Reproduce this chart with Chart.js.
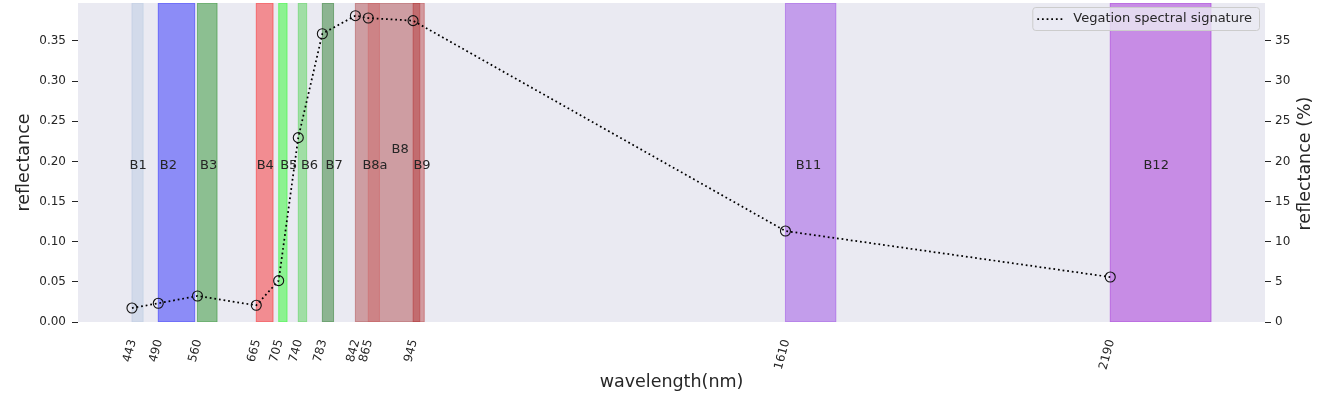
<!DOCTYPE html>
<html><head><meta charset="utf-8">
<script src="https://cdn.jsdelivr.net/npm/chart.js@4.4.1/dist/chart.umd.min.js"></script>
<style>html,body{margin:0;padding:0;background:#fff;} #wrap{width:1323px;height:400px;position:relative;}</style>
</head><body><div id="wrap"><canvas id="c"></canvas></div>
<script>
// ---- data ----
const wavelengths = [443, 490, 560, 665, 705, 740, 783, 842, 865, 945, 1610, 2190];
const reflectance = [0.0174, 0.0233, 0.0324, 0.0208, 0.0515, 0.2296, 0.359, 0.3815, 0.3786, 0.3753, 0.1133, 0.056];
const seriesLabel = 'Vegation spectral signature';
const bandNames   = ['B1', 'B2', 'B3', 'B4', 'B5', 'B6', 'B7', 'B8', 'B8a', 'B9', 'B11', 'B12'];
const bandStarts  = [443, 490, 560, 665, 705, 740, 783, 842, 865, 945, 1610, 2190];
const bandWidths  = [20, 65, 35, 30, 15, 15, 20, 115, 20, 20, 90, 180];
const bandLabelX  = [454, 508, 580, 681, 723, 760, 804, 922, 877, 961, 1651, 2272];
const bandLabelY  = [0.19, 0.19, 0.19, 0.19, 0.19, 0.19, 0.19, 0.21, 0.19, 0.19, 0.19, 0.19];
const xTicks  = [443, 490, 560, 665, 705, 740, 783, 842, 865, 945, 1610, 2190];
const yTicks  = [0, 0.05, 0.10, 0.15, 0.20, 0.25, 0.30, 0.35];
const y2Ticks = [0, 5, 10, 15, 20, 25, 30, 35];

// ---- styles ----
const bandColors = ['lightsteelblue', 'blue', 'green', 'red', 'lime', 'limegreen', 'darkgreen', 'brown', 'indianred', 'firebrick', 'blueviolet', 'darkviolet'];
const FONT = '"DejaVu Sans", sans-serif';
const TXT = '#262626';

const decor = {
  id: 'decor',
  beforeDraw(chart) {
    const {ctx, chartArea: a} = chart;
    ctx.save();
    ctx.fillStyle = '#EAEAF2';
    ctx.fillRect(a.left, a.top, a.width, a.height);
    ctx.restore();
  },
  beforeDatasetsDraw(chart) {
    const {ctx, chartArea: a, scales: {x, y}} = chart;
    ctx.save();
    ctx.beginPath(); ctx.rect(a.left, a.top, a.width, a.height); ctx.clip();
    bandStarts.forEach((s, i) => {
      const x0 = x.getPixelForValue(s), x1 = x.getPixelForValue(s + bandWidths[i]);
      ctx.globalAlpha = 0.4;
      ctx.fillStyle = bandColors[i];
      ctx.fillRect(x0, a.top, x1 - x0, a.height);
      ctx.strokeStyle = bandColors[i];
      ctx.lineWidth = 1;
      ctx.strokeRect(x0, a.top, x1 - x0, a.height);
    });
    ctx.globalAlpha = 1;
    ctx.font = '13px ' + FONT;
    ctx.fillStyle = TXT;
    ctx.textAlign = 'center';
    ctx.textBaseline = 'alphabetic';
    bandNames.forEach((n, i) => ctx.fillText(n, x.getPixelForValue(bandLabelX[i]), y.getPixelForValue(bandLabelY[i])));
    ctx.restore();
  },
  afterDraw(chart) {
    const {ctx, chartArea: a} = chart;
    const ds = chart.data.datasets[0];
    ctx.save();
    // legend
    ctx.font = '13px ' + FONT;
    const tw = ctx.measureText(ds.label).width;
    const w = 48 + tw, h = 23;
    const bx = a.right - 6 - w, by = a.top + 4;
    ctx.beginPath();
    if (ctx.roundRect) ctx.roundRect(bx + 0.5, by + 0.5, w, h, 3); else ctx.rect(bx + 0.5, by + 0.5, w, h);
    ctx.fillStyle = 'rgba(234,234,242,0.8)';
    ctx.fill();
    ctx.strokeStyle = '#cccccc';
    ctx.lineWidth = 1;
    ctx.stroke();
    const ly = by + h / 2 + 0.5;
    ctx.beginPath();
    ctx.setLineDash(ds.borderDash);
    ctx.lineWidth = ds.borderWidth;
    ctx.strokeStyle = ds.borderColor;
    ctx.moveTo(bx + 5, ly); ctx.lineTo(bx + 31, ly);
    ctx.stroke();
    ctx.setLineDash([]);
    ctx.fillStyle = TXT;
    ctx.textAlign = 'left';
    ctx.textBaseline = 'middle';
    ctx.fillText(ds.label, bx + 41, ly);
    // right axis title
    ctx.font = '17.5px ' + FONT;
    ctx.translate(1305.5, (a.top + a.bottom) / 2 + 1);
    ctx.rotate(-Math.PI / 2);
    ctx.textAlign = 'center';
    ctx.textBaseline = 'middle';
    ctx.fillText('reflectance (%)', 0, 0);
    ctx.restore();
  }
};

const tickFont = {family: FONT, size: 12};
const yGrid = {display: true, drawOnChartArea: false, drawTicks: true, tickLength: 6, tickColor: TXT, tickWidth: 1};

new Chart(document.getElementById('c'), {
  type: 'line',
  data: {
    datasets: [{
      label: seriesLabel,
      data: wavelengths.map((w, i) => ({x: w, y: reflectance[i]})),
      borderColor: '#000',
      borderWidth: 1.75,
      borderDash: [1.75, 2.9],
      borderCapStyle: 'butt',
      pointRadius: 5,
      pointHoverRadius: 5,
      pointBorderWidth: 1.1,
      pointBorderColor: '#111',
      pointBackgroundColor: 'rgba(0,0,0,0)',
      fill: false,
      tension: 0,
      clip: false
    }]
  },
  options: {
    responsive: true,
    maintainAspectRatio: false,
    animation: false,
    events: [],
    layout: {autoPadding: false, padding: {top: 3, left: 0, right: 0, bottom: 0}},
    plugins: {legend: {display: false}, tooltip: {enabled: false}},
    scales: {
      x: {
        type: 'linear',
        min: 346.65, max: 2466.35,
        afterBuildTicks: s => { s.ticks = xTicks.map(v => ({value: v})); },
        afterFit: s => { s.height = 78; s.paddingLeft = 0; s.paddingRight = 0; },
        grid: {display: false},
        border: {display: false},
        ticks: {autoSkip: false, minRotation: 75, maxRotation: 75, padding: 8, labelOffset: 1,
                font: tickFont, color: TXT, callback: v => String(v)},
        title: {display: true, text: 'wavelength(nm)', font: {family: FONT, size: 17.5}, color: TXT, padding: {top: 0, bottom: 7.5}}
      },
      y: {
        position: 'left',
        min: 0, max: 0.3973,
        afterBuildTicks: s => { s.ticks = yTicks.map(v => ({value: v})); },
        afterFit: s => { s.width = 78; s.paddingTop = 0; s.paddingBottom = 0; },
        grid: yGrid,
        border: {display: false},
        ticks: {padding: 6, font: tickFont, color: TXT, callback: v => Number(v).toFixed(2)},
        title: {display: true, text: 'reflectance', font: {family: FONT, size: 17.5}, color: TXT, padding: {top: 13.5, bottom: 0}}
      },
      y2: {
        position: 'right',
        min: 0, max: 39.73,
        afterBuildTicks: s => { s.ticks = y2Ticks.map(v => ({value: v})); },
        afterFit: s => { s.width = 58; s.paddingTop = 0; s.paddingBottom = 0; },
        grid: yGrid,
        border: {display: false},
        ticks: {padding: 4, font: tickFont, color: TXT, callback: v => String(v)}
      }
    }
  },
  plugins: [decor]
});
</script>
</body></html>
